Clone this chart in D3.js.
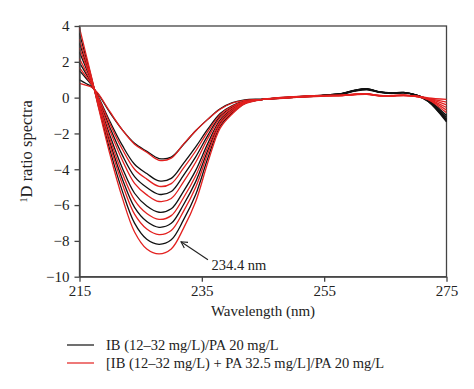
<!DOCTYPE html>
<html>
<head>
<meta charset="utf-8">
<script src="https://cdn.jsdelivr.net/npm/d3@7"></script>
<style>
body { margin: 0; background: #fff; }
svg { display: block; font-family: "Liberation Serif", "Times New Roman", serif; }
</style>
</head>
<body>
<script>
// wavelength grid (nm)
const wavelengths = [215, 216, 217, 218, 220, 222, 224, 226, 228, 230, 232, 234, 236, 238, 240, 242, 245, 250,
  255, 258, 260, 262, 264, 266, 268, 270, 272, 275];

// IB (12-32 mg/L)/PA 20 mg/L  (black)
const black1 = [1.00, 0.80, 0.60, 0.22, -0.85, -1.80, -2.55, -3.00, -3.40, -3.32, -2.62, -1.85, -1.20, -0.62, -0.28, -0.12, -0.08, 0.02,
  0.12, 0.20, 0.36, 0.44, 0.30, 0.24, 0.26, 0.15, -0.12, -1.00];
const black2 = [1.51, 1.11, 0.70, 0.10, -1.35, -2.67, -3.72, -4.24, -4.65, -4.51, -3.67, -2.75, -1.75, -0.89, -0.44, -0.20, -0.10, 0.01,
  0.12, 0.22, 0.38, 0.46, 0.31, 0.24, 0.27, 0.15, -0.14, -1.10];
const black3 = [1.95, 1.37, 0.77, 0.01, -1.69, -3.21, -4.41, -5.02, -5.40, -5.24, -4.34, -3.31, -2.09, -1.04, -0.52, -0.22, -0.10, 0.02,
  0.13, 0.22, 0.39, 0.47, 0.31, 0.25, 0.28, 0.15, -0.16, -1.20];
const black4 = [2.54, 1.71, 0.87, -0.11, -2.14, -3.93, -5.34, -6.05, -6.40, -6.21, -5.23, -4.06, -2.54, -1.24, -0.64, -0.26, -0.10, 0.03,
  0.13, 0.23, 0.40, 0.48, 0.32, 0.25, 0.28, 0.14, -0.18, -1.25];
const black5 = [3.03, 2.00, 0.95, -0.22, -2.53, -4.54, -6.13, -6.92, -7.24, -7.02, -5.98, -4.69, -2.93, -1.41, -0.73, -0.29, -0.10, 0.04,
  0.14, 0.24, 0.41, 0.49, 0.32, 0.26, 0.29, 0.14, -0.20, -1.30];
const black6 = [3.59, 2.32, 1.05, -0.34, -2.96, -5.22, -7.01, -7.91, -8.19, -7.94, -6.83, -5.41, -3.36, -1.60, -0.84, -0.33, -0.10, 0.05,
  0.14, 0.24, 0.42, 0.50, 0.33, 0.26, 0.29, 0.13, -0.22, -1.35];

// [IB (12-32 mg/L) + PA 32.5 mg/L]/PA 20 mg/L  (red)
const red1 = [0.80, 0.70, 0.58, 0.25, -0.80, -1.80, -2.60, -3.05, -3.50, -3.38, -2.60, -1.85, -1.20, -0.65, -0.30, -0.15, -0.10, 0.00,
  0.09, 0.11, 0.16, 0.18, 0.10, 0.09, 0.12, 0.09, -0.02, -0.10];
const red2 = [1.68, 1.21, 0.73, 0.07, -1.48, -2.88, -4.00, -4.55, -4.95, -4.80, -3.94, -2.98, -1.88, -0.95, -0.47, -0.21, -0.10, 0.01,
  0.10, 0.12, 0.17, 0.19, 0.10, 0.10, 0.12, 0.08, -0.04, -0.25];
const red3 = [2.18, 1.50, 0.81, -0.04, -1.87, -3.50, -4.79, -5.43, -5.80, -5.63, -4.70, -3.61, -2.27, -1.12, -0.57, -0.24, -0.10, 0.02,
  0.10, 0.12, 0.18, 0.20, 0.11, 0.10, 0.13, 0.08, -0.06, -0.40];
const red4 = [2.77, 1.85, 0.91, -0.16, -2.33, -4.22, -5.72, -6.47, -6.80, -6.59, -5.59, -4.36, -2.73, -1.32, -0.68, -0.28, -0.10, 0.03,
  0.11, 0.13, 0.19, 0.21, 0.11, 0.11, 0.13, 0.07, -0.08, -0.55];
const red5 = [3.27, 2.14, 0.99, -0.27, -2.71, -4.83, -6.51, -7.34, -7.65, -7.42, -6.35, -5.00, -3.11, -1.49, -0.78, -0.31, -0.10, 0.04,
  0.11, 0.13, 0.19, 0.21, 0.12, 0.11, 0.14, 0.07, -0.10, -0.70];
const red6 = [3.90, 2.50, 1.10, -0.40, -3.20, -5.60, -7.50, -8.45, -8.72, -8.45, -7.30, -5.80, -3.60, -1.70, -0.90, -0.35, -0.10, 0.05,
  0.12, 0.14, 0.20, 0.22, 0.12, 0.12, 0.14, 0.06, -0.12, -0.85];

const blackSeries = [black1, black2, black3, black4, black5, black6];
const redSeries = [red1, red2, red3, red4, red5, red6];

const xTicks = [215, 235, 255, 275];
const yTicks = [-10, -8, -6, -4, -2, 0, 2, 4];
const legendLabels = ["IB (12\u201332 mg/L)/PA 20 mg/L", "[IB (12\u201332 mg/L) + PA 32.5 mg/L]/PA 20 mg/L"];
const peakLabel = "234.4 nm";

const width = 474, height = 389;
const margin = { left: 79.5, right: 27.5, top: 26, bottom: 112.3 };
const axisColor = "#444";
const blackColor = "#111";
const redColor = "#e3201f";

const svg = d3.select("body").append("svg")
  .attr("width", width)
  .attr("height", height);

const x = d3.scaleLinear().domain([215, 275]).range([margin.left, width - margin.right]);
const y = d3.scaleLinear().domain([-10, 4]).range([height - margin.bottom, margin.top]);

// frame
svg.append("rect")
  .attr("x", x(215)).attr("y", y(4))
  .attr("width", x(275) - x(215)).attr("height", y(-10) - y(4))
  .attr("fill", "none").attr("stroke", axisColor).attr("stroke-width", 1.3);

const line = d3.line()
  .x((d, i) => x(wavelengths[i]))
  .y(d => y(d))
  .curve(d3.curveCatmullRom.alpha(0.5));

const plot = svg.append("g");
blackSeries.forEach(s => {
  plot.append("path").attr("d", line(s))
    .attr("fill", "none").attr("stroke", blackColor).attr("stroke-width", 1.3);
});
redSeries.forEach(s => {
  plot.append("path").attr("d", line(s))
    .attr("fill", "none").attr("stroke", redColor).attr("stroke-width", 1.3);
});

// axes
const xAxis = d3.axisBottom(x).tickValues(xTicks).tickSize(5).tickSizeOuter(0).tickPadding(4);
const yAxis = d3.axisLeft(y).tickValues(yTicks).tickSize(5).tickSizeOuter(0).tickPadding(5);

const gx = svg.append("g")
  .attr("transform", `translate(0,${y(-10)})`)
  .call(xAxis);
const gy = svg.append("g")
  .attr("transform", `translate(${x(215)},0)`)
  .call(yAxis);

[gx, gy].forEach(g => {
  g.select(".domain").attr("stroke", axisColor).attr("stroke-width", 1.3);
  g.selectAll(".tick line").attr("stroke", axisColor).attr("stroke-width", 1.3);
  g.selectAll(".tick text").attr("fill", "#222")
    .style("font-size", "15px").style("font-family", "Liberation Serif, serif");
});

// axis titles
svg.append("text")
  .attr("x", (x(215) + x(275)) / 2)
  .attr("y", 316)
  .attr("text-anchor", "middle")
  .attr("fill", "#222")
  .style("font-size", "15px")
  .text("Wavelength (nm)");

const yt = svg.append("text")
  .attr("transform", `translate(32,${(y(-10) + y(4)) / 2}) rotate(-90)`)
  .attr("text-anchor", "middle")
  .attr("fill", "#222")
  .style("font-size", "16.5px");
yt.append("tspan").attr("baseline-shift", "super").style("font-size", "10px").text("1");
yt.append("tspan").text("D ratio spectra");

// annotation arrow
const tip = [x(231.6), y(-8.05)];
const tail = [x(236.0), y(-9.05)];
svg.append("line")
  .attr("x1", tail[0]).attr("y1", tail[1]).attr("x2", tip[0]).attr("y2", tip[1])
  .attr("stroke", "#222").attr("stroke-width", 1.1);
const ang = Math.atan2(tail[1] - tip[1], tail[0] - tip[0]);
const hl = 7, hw = 0.5;
svg.append("path")
  .attr("d", `M${tip[0] + hl * Math.cos(ang + hw)},${tip[1] + hl * Math.sin(ang + hw)}L${tip[0]},${tip[1]}L${tip[0] + hl * Math.cos(ang - hw)},${tip[1] + hl * Math.sin(ang - hw)}`)
  .attr("fill", "none").attr("stroke", "#222").attr("stroke-width", 1.1);
svg.append("text")
  .attr("x", x(236.6))
  .attr("y", y(-9.6))
  .attr("fill", "#222")
  .style("font-size", "14.5px")
  .text(peakLabel);

// legend
const legend = svg.append("g");
[blackColor, redColor].forEach((c, i) => {
  const ly = 345 + i * 18;
  legend.append("line")
    .attr("x1", 67).attr("x2", 94).attr("y1", ly).attr("y2", ly)
    .attr("stroke", c).attr("stroke-width", 1.2);
  legend.append("text")
    .attr("x", 106).attr("y", ly + 4.5)
    .attr("fill", "#222")
    .style("font-size", "14.5px")
    .text(legendLabels[i]);
});
</script>
</body>
</html>
